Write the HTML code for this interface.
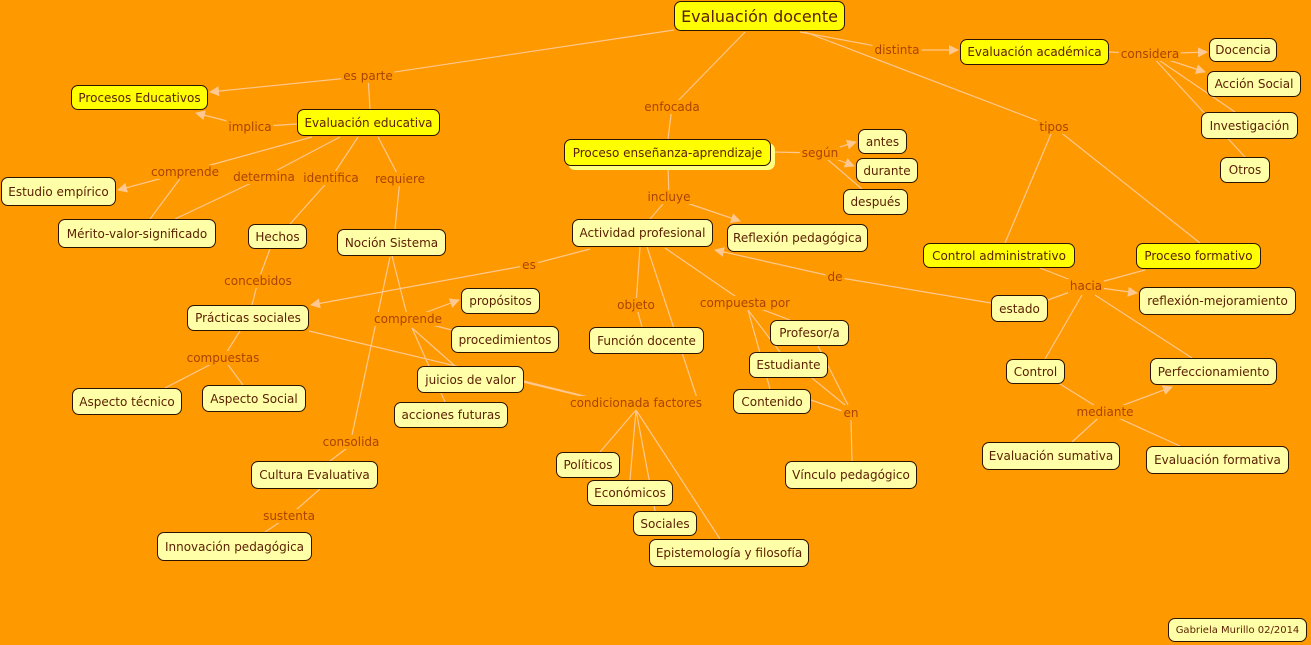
<!DOCTYPE html>
<html><head><meta charset="utf-8"><style>
body{margin:0;width:1311px;height:645px;overflow:hidden;background:#ff9900;font-family:"DejaVu Sans","Liberation Sans",sans-serif;}
svg{position:absolute;left:0;top:0}
.n{position:absolute;box-sizing:border-box;border:1px solid #2a1400;border-radius:7px;background:#ffffa8;color:#5a1e00;font-size:12px;display:flex;align-items:center;justify-content:center;white-space:nowrap}
.b{background:#ffff00}
.l{position:absolute;transform:translate(-50%,-50%);color:#a84400;font-size:12px;background:#ff9900;padding:0 2px;white-space:nowrap}
</style></head><body>
<svg width="1311" height="645">
<defs><marker id="a" markerWidth="10" markerHeight="10" refX="9" refY="5" orient="auto" markerUnits="userSpaceOnUse"><path d="M0,0L10,5L0,10z" fill="#ffc890"/></marker></defs>
<g stroke="#ffc890" stroke-width="1.2" fill="none">
<line x1="674" y1="30" x2="368" y2="76"/><line x1="368" y1="76" x2="210" y2="92" marker-end="url(#a)"/>
<line x1="368" y1="76" x2="370" y2="109"/>
<line x1="297" y1="124" x2="250" y2="127"/><line x1="250" y1="127" x2="196" y2="113" marker-end="url(#a)"/>
<line x1="312" y1="137" x2="185" y2="172"/><line x1="185" y1="172" x2="118" y2="190" marker-end="url(#a)"/><line x1="185" y1="172" x2="150" y2="219"/>
<line x1="340" y1="137" x2="264" y2="177"/><line x1="264" y1="177" x2="175" y2="219"/>
<line x1="358" y1="137" x2="331" y2="178"/><line x1="331" y1="178" x2="290" y2="224"/>
<line x1="378" y1="137" x2="400" y2="179"/><line x1="400" y1="179" x2="395" y2="229"/>
<line x1="745" y1="32" x2="672" y2="107"/><line x1="672" y1="107" x2="668" y2="139"/>
<line x1="800" y1="32" x2="897" y2="50"/><line x1="897" y1="50" x2="958" y2="50" marker-end="url(#a)"/>
<line x1="805" y1="32" x2="1054" y2="127"/><line x1="1054" y1="127" x2="1005" y2="243"/><line x1="1054" y1="127" x2="1200" y2="243"/>
<line x1="1109" y1="52" x2="1150" y2="54"/><line x1="1150" y1="54" x2="1207" y2="52" marker-end="url(#a)"/><line x1="1150" y1="54" x2="1205" y2="72" marker-end="url(#a)"/><line x1="1150" y1="54" x2="1235" y2="112"/><line x1="1150" y1="54" x2="1245" y2="157"/>
<line x1="771" y1="152" x2="820" y2="153"/><line x1="820" y1="153" x2="856" y2="142" marker-end="url(#a)"/><line x1="820" y1="153" x2="854" y2="166" marker-end="url(#a)"/><line x1="820" y1="153" x2="862" y2="189"/>
<line x1="668" y1="166" x2="669" y2="197"/><line x1="669" y1="197" x2="650" y2="219"/><line x1="669" y1="197" x2="740" y2="221" marker-end="url(#a)"/>
<line x1="590" y1="249" x2="529" y2="265"/><line x1="529" y1="265" x2="311" y2="305" marker-end="url(#a)"/>
<line x1="640" y1="247" x2="636" y2="305"/><line x1="636" y1="305" x2="642" y2="327"/>
<line x1="647" y1="247" x2="697" y2="398"/>
<line x1="665" y1="248" x2="745" y2="303"/><line x1="745" y1="303" x2="790" y2="320"/><line x1="748" y1="310" x2="780" y2="352"/><line x1="748" y1="310" x2="770" y2="389"/>
<line x1="818" y1="346" x2="848" y2="405"/><line x1="812" y1="378" x2="845" y2="405"/><line x1="811" y1="400" x2="845" y2="412"/><line x1="851" y1="420" x2="852" y2="461"/>
<line x1="991" y1="303" x2="835" y2="277"/><line x1="835" y1="277" x2="715" y2="250" marker-end="url(#a)"/>
<line x1="1040" y1="268" x2="1086" y2="286"/><line x1="1145" y1="270" x2="1086" y2="286"/><line x1="1048" y1="300" x2="1086" y2="286"/><line x1="1086" y1="286" x2="1137" y2="293" marker-end="url(#a)"/><line x1="1082" y1="295" x2="1045" y2="359"/><line x1="1095" y1="295" x2="1192" y2="358"/>
<line x1="1060" y1="384" x2="1105" y2="412"/><line x1="1105" y1="412" x2="1172" y2="387" marker-end="url(#a)"/><line x1="1105" y1="412" x2="1072" y2="442"/><line x1="1105" y1="412" x2="1180" y2="446"/>
<line x1="270" y1="249" x2="258" y2="281"/><line x1="258" y1="281" x2="252" y2="305"/>
<line x1="240" y1="331" x2="223" y2="358"/><line x1="223" y1="358" x2="165" y2="388"/><line x1="223" y1="358" x2="243" y2="385"/>
<line x1="392" y1="256" x2="408" y2="319"/><line x1="408" y1="319" x2="459" y2="300" marker-end="url(#a)"/><line x1="408" y1="319" x2="452" y2="330"/><line x1="412" y1="328" x2="455" y2="366"/><line x1="412" y1="328" x2="445" y2="402"/>
<line x1="390" y1="257" x2="352" y2="435"/><line x1="351" y1="445" x2="330" y2="461"/>
<line x1="309" y1="331" x2="590" y2="398"/><line x1="524" y1="381" x2="600" y2="400"/>
<line x1="636" y1="410" x2="600" y2="452"/><line x1="636" y1="410" x2="630" y2="480"/><line x1="636" y1="410" x2="655" y2="511"/><line x1="636" y1="410" x2="720" y2="539"/>
<line x1="320" y1="489" x2="289" y2="516"/><line x1="289" y1="516" x2="265" y2="532"/>
</g></svg>
<div class="n b" style="left:674px;top:1px;width:171px;height:30px;font-size:16px">Evaluación docente</div>
<div class="n b" style="left:960px;top:39px;width:149px;height:26px">Evaluación académica</div>
<div class="n" style="left:1209px;top:38px;width:68px;height:24px">Docencia</div>
<div class="n" style="left:1207px;top:71px;width:94px;height:26px">Acción Social</div>
<div class="n" style="left:1201px;top:112px;width:97px;height:27px">Investigación</div>
<div class="n" style="left:1220px;top:157px;width:50px;height:26px">Otros</div>
<div class="n b" style="left:71px;top:85px;width:137px;height:25px">Procesos Educativos</div>
<div class="n b" style="left:297px;top:109px;width:143px;height:27px">Evaluación educativa</div>
<div class="n b" style="left:564px;top:139px;width:207px;height:27px;box-shadow:4px 4px 0 #ffff80">Proceso enseñanza-aprendizaje</div>
<div class="n" style="left:858px;top:129px;width:49px;height:25px">antes</div>
<div class="n" style="left:856px;top:158px;width:62px;height:25px">durante</div>
<div class="n" style="left:843px;top:189px;width:65px;height:26px">después</div>
<div class="n" style="left:1px;top:177px;width:115px;height:29px">Estudio empírico</div>
<div class="n" style="left:58px;top:219px;width:158px;height:29px">Mérito-valor-significado</div>
<div class="n" style="left:248px;top:224px;width:59px;height:25px">Hechos</div>
<div class="n" style="left:337px;top:229px;width:109px;height:27px">Noción Sistema</div>
<div class="n" style="left:572px;top:219px;width:141px;height:28px">Actividad profesional</div>
<div class="n" style="left:727px;top:224px;width:141px;height:28px">Reflexión pedagógica</div>
<div class="n b" style="left:923px;top:243px;width:152px;height:25px">Control administrativo</div>
<div class="n b" style="left:1136px;top:243px;width:125px;height:26px">Proceso formativo</div>
<div class="n" style="left:991px;top:295px;width:57px;height:27px">estado</div>
<div class="n" style="left:1139px;top:287px;width:157px;height:28px">reflexión-mejoramiento</div>
<div class="n" style="left:461px;top:288px;width:79px;height:26px">propósitos</div>
<div class="n" style="left:451px;top:326px;width:108px;height:27px">procedimientos</div>
<div class="n" style="left:187px;top:305px;width:122px;height:26px">Prácticas sociales</div>
<div class="n" style="left:589px;top:327px;width:115px;height:27px">Función docente</div>
<div class="n" style="left:770px;top:320px;width:79px;height:26px">Profesor/a</div>
<div class="n" style="left:749px;top:352px;width:79px;height:26px">Estudiante</div>
<div class="n" style="left:733px;top:389px;width:78px;height:25px">Contenido</div>
<div class="n" style="left:417px;top:366px;width:107px;height:27px">juicios de valor</div>
<div class="n" style="left:394px;top:402px;width:114px;height:26px">acciones futuras</div>
<div class="n" style="left:72px;top:388px;width:110px;height:27px">Aspecto técnico</div>
<div class="n" style="left:202px;top:385px;width:104px;height:27px">Aspecto Social</div>
<div class="n" style="left:1006px;top:359px;width:59px;height:25px">Control</div>
<div class="n" style="left:1150px;top:358px;width:127px;height:27px">Perfeccionamiento</div>
<div class="n" style="left:982px;top:442px;width:138px;height:28px">Evaluación sumativa</div>
<div class="n" style="left:1146px;top:446px;width:143px;height:28px">Evaluación formativa</div>
<div class="n" style="left:785px;top:461px;width:132px;height:28px">Vínculo pedagógico</div>
<div class="n" style="left:556px;top:452px;width:64px;height:26px">Políticos</div>
<div class="n" style="left:587px;top:480px;width:86px;height:26px">Económicos</div>
<div class="n" style="left:633px;top:511px;width:64px;height:25px">Sociales</div>
<div class="n" style="left:649px;top:539px;width:160px;height:28px">Epistemología y filosofía</div>
<div class="n" style="left:251px;top:461px;width:127px;height:28px">Cultura Evaluativa</div>
<div class="n" style="left:157px;top:532px;width:155px;height:29px">Innovación pedagógica</div>
<div class="n" style="left:1168px;top:618px;width:139px;height:24px;font-size:10px">Gabriela Murillo 02/2014</div>
<div class="l" style="left:368px;top:76px">es parte</div>
<div class="l" style="left:250px;top:127px">implica</div>
<div class="l" style="left:185px;top:172px">comprende</div>
<div class="l" style="left:264px;top:177px">determina</div>
<div class="l" style="left:331px;top:178px">identifica</div>
<div class="l" style="left:400px;top:179px">requiere</div>
<div class="l" style="left:672px;top:107px">enfocada</div>
<div class="l" style="left:897px;top:50px">distinta</div>
<div class="l" style="left:1150px;top:54px">considera</div>
<div class="l" style="left:1054px;top:127px">tipos</div>
<div class="l" style="left:820px;top:153px">según</div>
<div class="l" style="left:669px;top:197px">incluye</div>
<div class="l" style="left:529px;top:265px">es</div>
<div class="l" style="left:636px;top:305px">objeto</div>
<div class="l" style="left:745px;top:303px">compuesta por</div>
<div class="l" style="left:835px;top:277px">de</div>
<div class="l" style="left:1086px;top:286px">hacia</div>
<div class="l" style="left:258px;top:281px">concebidos</div>
<div class="l" style="left:223px;top:358px">compuestas</div>
<div class="l" style="left:408px;top:319px">comprende</div>
<div class="l" style="left:636px;top:403px">condicionada factores</div>
<div class="l" style="left:851px;top:413px">en</div>
<div class="l" style="left:351px;top:442px">consolida</div>
<div class="l" style="left:289px;top:516px">sustenta</div>
<div class="l" style="left:1105px;top:412px">mediante</div>
</body></html>
